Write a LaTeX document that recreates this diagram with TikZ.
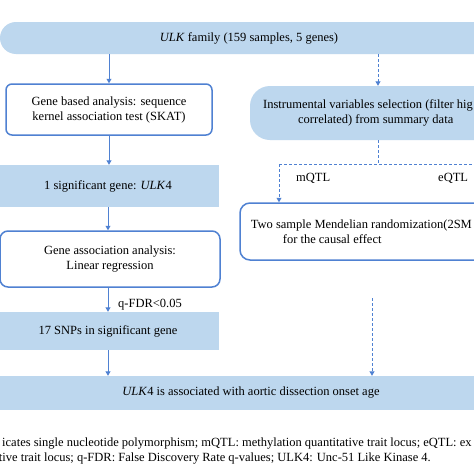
\documentclass[tikz,border=0pt]{standalone}
\usepackage{fontspec}
\setmainfont{Liberation Serif}
\usetikzlibrary{arrows.meta}
\definecolor{lb}{RGB}{189,215,238}
\definecolor{bd}{RGB}{79,129,210}
\begin{document}
\begin{tikzpicture}[x=1pt,y=-1pt, font=\fontsize{12.5}{15}\selectfont,
 fillbox/.style={fill=lb, draw=none, inner sep=0pt, align=center},
 linebox/.style={fill=white, draw=bd, line width=1.5pt, inner sep=0pt, align=center},
 arr/.style={draw=bd, line width=0.9pt, -{Triangle[width=5pt,length=4.5pt]}},
 darr/.style={arr, dash pattern=on 3pt off 2pt},
 dline/.style={draw=bd, line width=0.9pt, dash pattern=on 3pt off 2pt},
 lbl/.style={inner sep=0pt, anchor=base west}]
\clip (0,0) rectangle (474,474);
\fill[white] (0,0) rectangle (474,474);
% left column
\node[fillbox, rounded corners=16pt, minimum width=498pt, minimum height=32pt] (top) at (249,38) {\textit{ULK} family (159 samples, 5 genes)};
\node[linebox, rounded corners=6pt, minimum width=206pt, minimum height=51pt] (gb) at (109,109.5) {Gene based analysis: sequence\\kernel association test (SKAT)};
\node[fillbox, minimum width=222pt, minimum height=42pt] (sig) at (108,186) {1 significant gene: \textit{ULK}4};
\node[linebox, rounded corners=8pt, minimum width=220pt, minimum height=56pt] (ga) at (110,259) {Gene association analysis:\\Linear regression};
\node[fillbox, minimum width=222pt, minimum height=38pt] (snp) at (108,331) {17 SNPs in significant gene};
\node[fillbox, minimum width=504pt, minimum height=34pt] (fin) at (251,393) {\textit{ULK}4 is associated with aortic dissection onset age};
% right column
\node[fillbox, rounded corners=20pt, minimum width=256pt, minimum height=54pt] (iv) at (378,113) {};
\node[inner sep=0pt, align=left, anchor=east] (ivt) at (473,113) {Instrumental variables selection (filter hig\\\hspace*{35pt}correlated) from summary data};
\node[linebox, rounded corners=10pt, minimum width=270pt, minimum height=57pt] (mr) at (375,231.5) {};
\node[inner sep=0pt, align=left, anchor=east] (mrt) at (472,232) {Two sample Mendelian randomization(2SM\\\hspace*{32pt}for the causal effect};
% connectors
\draw[arr] (gb.north |- top.south) -- (gb.north);
\draw[darr] (iv.north |- top.south) -- (iv.north);
\draw[arr] (gb.south) -- (gb.south |- sig.north);
\draw[arr] (sig.south) -- (sig.south |- ga.north);
\draw[arr] (snp.north |- ga.south) -- (snp.north);
\node[lbl] (q) at (118,307) {q-FDR<0.05};
\draw[arr] (snp.south) -- (snp.south |- fin.north);
\coordinate (sp) at (iv.south |- 0,164);
\coordinate (spl) at (279,164);
\coordinate (spr) at (490,164);
\draw[dline] (iv.south) -- (sp);
\draw[dline] (spl) -- (spr);
\draw[darr] (spl) -- (spl |- mr.north);
\node[lbl] (mq) at (296,181) {mQTL};
\node[lbl] (eq) at (438,181) {eQTL};
\coordinate (ds) at (372,298);
\draw[darr] (ds) -- (ds |- fin.north);
% caption
\node[lbl] (c1) at (2,446) {icates single nucleotide polymorphism; mQTL: methylation quantitative trait locus; eQTL: ex};
\node[inner sep=0pt, anchor=base east] (c2) at (431,461) {tive trait locus; q-FDR: False Discovery Rate q-values; ULK4: Unc-51 Like Kinase 4.};
\end{tikzpicture}
\end{document}
